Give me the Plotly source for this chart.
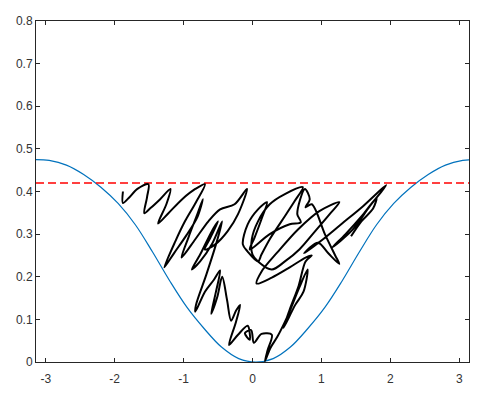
import plotly.graph_objects as go
import math

# Blue curve
curve_x = [-3.1416, -2.95, -2.70, -2.45, -2.20, -1.95, -1.70, -1.45, -1.20, -0.95, -0.70, -0.45, -0.20, 0.05,
           0.30, 0.55, 0.80, 1.05, 1.30, 1.55, 1.80, 2.05, 2.30, 2.55, 2.80, 3.05, 3.1416]
curve_y = [0.475, 0.473, 0.462, 0.440, 0.410, 0.372, 0.322, 0.258, 0.190, 0.128, 0.078, 0.035, 0.008, 0.0,
           0.008, 0.035, 0.078, 0.128, 0.190, 0.258, 0.322, 0.372, 0.410, 0.440, 0.462, 0.473, 0.474]

# Red dashed level
level = 0.42

# Black trajectory
path_x = [-1.88, -1.88, -1.80, -1.67, -1.51, -1.53, -1.57, -1.48, -1.34, -1.19, -1.25, -1.37, -1.22, -1.02,
          -0.83, -0.69, -0.82, -0.98, -1.12, -1.28, -1.14, -0.96, -0.80, -0.72, -0.80, -0.93, -1.03,
          -0.83, -0.64, -0.47, -0.26, -0.08, -0.21, -0.36, -0.54, -0.69, -0.61, -0.50,
          -0.59, -0.76, -0.88, -0.76, -0.59, -0.44, -0.53, -0.67, -0.82, -0.83, -0.69, -0.56, -0.47,
          -0.53, -0.60, -0.51, -0.44, -0.37, -0.31, -0.24, -0.18, -0.24, -0.34, -0.21, -0.07, -0.04,
          -0.11, -0.02, 0.02, 0.13, 0.28, 0.22, 0.18, 0.26, 0.36, 0.47, 0.55, 0.68, 0.80, 0.74, 0.62,
          0.45, 0.54, 0.67, 0.77, 0.86,
          0.77, 0.54, 0.28, 0.06, 0.13, 0.37, 0.66, 0.97, 1.26, 1.12, 0.91, 0.68, 0.47, 0.28,
          0.08, 0.00, -0.01, 0.08, 0.25, 0.47, 0.73, 0.61, 0.42, 0.25, 0.13, 0.08,
          -0.07, -0.14, -0.07, 0.08, 0.21, 0.13, 0.03, -0.04,
          0.25, 0.54, 0.70, 0.65, 0.76, 0.83, 0.77, 0.86, 1.05, 1.20, 1.26, 1.10, 0.95, 0.75,
          1.00, 1.30, 1.60, 1.94, 1.70, 1.45, 1.16, 1.35, 1.60, 1.80, 1.75, 1.58, 1.43]
path_y = [0.400, 0.373, 0.384, 0.406, 0.417, 0.387, 0.349, 0.361, 0.382, 0.406, 0.370, 0.325, 0.349, 0.382,
          0.406, 0.417, 0.375, 0.330, 0.283, 0.222, 0.255, 0.297, 0.340, 0.382, 0.347, 0.292, 0.245,
          0.288, 0.330, 0.358, 0.370, 0.406, 0.347, 0.307, 0.276, 0.264, 0.292, 0.330,
          0.307, 0.252, 0.217, 0.236, 0.276, 0.330, 0.276, 0.205, 0.134, 0.118, 0.165, 0.193, 0.215,
          0.165, 0.113, 0.153, 0.200, 0.146, 0.097, 0.120, 0.134, 0.094, 0.040, 0.064, 0.085, 0.052,
          0.068, 0.075, 0.045, 0.066, 0.064, 0.028, 0.002, 0.033, 0.059, 0.094, 0.123, 0.175, 0.217, 0.165, 0.134,
          0.080, 0.123, 0.179, 0.236, 0.250,
          0.245, 0.222, 0.198, 0.184, 0.212, 0.259, 0.311, 0.354, 0.375, 0.347, 0.307, 0.264, 0.236, 0.217,
          0.236, 0.252, 0.288, 0.330, 0.370, 0.394, 0.410, 0.377, 0.330, 0.288, 0.252, 0.236,
          0.259, 0.276, 0.323, 0.358, 0.375, 0.335, 0.292, 0.264,
          0.300, 0.323, 0.328, 0.347, 0.406, 0.382, 0.363, 0.370, 0.300, 0.250, 0.230, 0.255, 0.280, 0.255,
          0.285, 0.325, 0.365, 0.415, 0.365, 0.310, 0.269, 0.300, 0.345, 0.385, 0.360, 0.330, 0.295]

x_ticks = [-3, -2, -1, 0, 1, 2, 3]
x_labels = ["-3", "-2", "-1", "0", "1", "2", "3"]
y_ticks = [0, 0.1, 0.2, 0.3, 0.4, 0.5, 0.6, 0.7, 0.8]
y_labels = ["0", "0.1", "0.2", "0.3", "0.4", "0.5", "0.6", "0.7", "0.8"]

fig = go.Figure()
fig.add_trace(go.Scatter(x=curve_x, y=curve_y, mode="lines",
                         line=dict(color="#0072BD", width=1.2, shape="spline", smoothing=1.0),
                         showlegend=False, hoverinfo="skip"))
fig.add_trace(go.Scatter(x=[-math.pi, math.pi], y=[level, level], mode="lines",
                         line=dict(color="#FF0000", width=1.3, dash="8px,4px"),
                         showlegend=False, hoverinfo="skip"))
fig.add_trace(go.Scatter(x=path_x, y=path_y, mode="lines",
                         line=dict(color="#000000", width=2, shape="spline", smoothing=0.9),
                         showlegend=False, hoverinfo="skip"))

axis_common = dict(showline=True, linecolor="#262626", linewidth=1, mirror="ticks",
                   ticks="inside", ticklen=4, tickcolor="#262626", showgrid=False,
                   zeroline=False, automargin=False,
                   tickfont=dict(family="Liberation Sans, Arial", size=12, color="#333333"))
fig.update_xaxes(range=[-math.pi, math.pi], tickvals=x_ticks, ticktext=x_labels,
                 ticklabelstandoff=6, **axis_common)
fig.update_yaxes(range=[0, 0.8], tickvals=y_ticks, ticktext=y_labels, **axis_common)
fig.update_layout(width=490, height=405, margin=dict(l=36, r=21, t=21, b=43),
                  plot_bgcolor="white", paper_bgcolor="white")
fig.write_html("out.html", config={"displayModeBar": False},
               post_script="document.body.style.margin='0px';")
